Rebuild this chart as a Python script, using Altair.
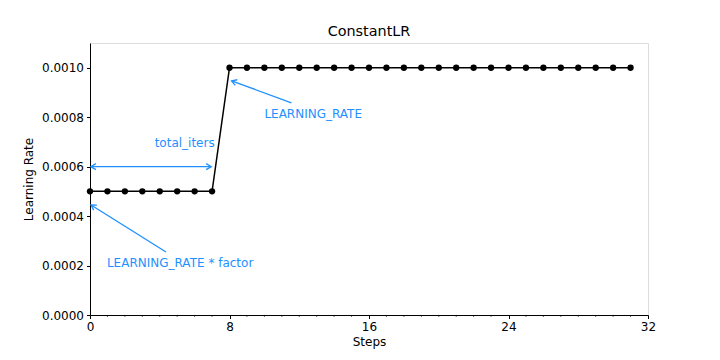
import math
import altair as alt
import pandas as pd

steps = list(range(32))
lrs = [0.0005] * 8 + [0.001] * 24
x_ticks = [0, 8, 16, 24, 32]
minor_ticks = [i for i in range(33) if i % 8 != 0]

BLUE = "#1E90FF"
W, H = 558, 272
XMAX, YMAX = 32, 0.0011
SX, SY = W / XMAX, H / YMAX
FONT = "DejaVu Sans"
FS = 12

# annotations: (x_tail, y_tail, x_head, y_head, both_heads)
arrows = [
    (11.55, 0.000858, 8.12, 0.000947, False),
    (0.05, 0.0006, 6.95, 0.0006, True),
    (4.36, 0.000255, 0.06, 0.000445, False),
]
labels = ["LEARNING_RATE", "total_iters", "LEARNING_RATE * factor"]
label_x = [10.0, 7.15, 0.97]
label_y = [0.000814, 0.000696, 0.00021]
label_align = ["left", "right", "left"]

df = pd.DataFrame({"step": steps, "lr": lrs})

xs = alt.Scale(domain=[0, XMAX], nice=False)
ys = alt.Scale(domain=[0, YMAX], nice=False)

common = dict(grid=False, tickSize=3.5, labelFontSize=FS, titleFontSize=FS, titleFontWeight="normal",
              domainColor="black", tickColor="black", labelColor="black", titleColor="black",
              labelFont=FONT, titleFont=FONT, labelFlush=False, labelOverlap=False)

base = alt.Chart(df)
line = base.mark_line(color="black", strokeWidth=1.5).encode(
    x=alt.X("step:Q", scale=xs, axis=alt.Axis(values=x_ticks, title="Steps", titlePadding=4, labelPadding=3, **common)),
    y=alt.Y("lr:Q", scale=ys, axis=alt.Axis(values=[0, 0.0002, 0.0004, 0.0006, 0.0008, 0.001], format=".4f",
                                             title="Learning Rate", titlePadding=6, labelPadding=3, **common)),
)
pts = base.mark_point(filled=True, color="black", size=40, opacity=1).encode(
    x=alt.X("step:Q", scale=xs), y=alt.Y("lr:Q", scale=ys)
)

minor_df = pd.DataFrame({"m": minor_ticks})
minor = alt.Chart(minor_df).mark_rule(color="black", strokeWidth=0.6).encode(
    x=alt.X("m:Q", scale=xs), y=alt.value(H), y2=alt.value(H + 2)
)

seg_rows = []
head_rows = []
for (x0, y0, x1, y1, both) in arrows:
    seg_rows.append({"x0": x0, "y0": y0, "x1": x1, "y1": y1})
    ang = math.degrees(math.atan2(-(y1 - y0) * SY, (x1 - x0) * SX)) % 360
    head_rows.append({"x": x1, "y": y1, "a": ang})
    if both:
        head_rows.append({"x": x0, "y": y0, "a": (ang + 180) % 360})
seg = alt.Chart(pd.DataFrame(seg_rows)).mark_rule(color=BLUE, strokeWidth=1.3).encode(
    x=alt.X("x0:Q", scale=xs), y=alt.Y("y0:Q", scale=ys), x2="x1:Q", y2="y1:Q"
)
heads = alt.Chart(pd.DataFrame(head_rows)).mark_point(
    shape="M -1 -0.6 L 0 0 L -1 0.6", filled=False, color=BLUE, strokeWidth=1.3, size=100, opacity=1
).encode(x=alt.X("x:Q", scale=xs), y=alt.Y("y:Q", scale=ys), angle=alt.Angle("a:Q", scale=None))

lab_df = pd.DataFrame({"t": labels, "x": label_x, "y": label_y, "al": label_align})
texts = []
for al in ["left", "right"]:
    texts.append(alt.Chart(lab_df[lab_df.al == al]).mark_text(
        color=BLUE, fontSize=FS, font=FONT, align=al, baseline="middle"
    ).encode(x=alt.X("x:Q", scale=xs), y=alt.Y("y:Q", scale=ys), text="t:N"))

chart = alt.layer(line, pts, minor, seg, heads, *texts).properties(
    width=W, height=H,
    title=alt.TitleParams("ConstantLR", fontSize=14.4, font=FONT, fontWeight="normal", anchor="middle",
                          offset=4, color="black"),
    autosize=alt.AutoSizeParams(type="none"),
    padding={"left": 82, "top": 35, "right": 64, "bottom": 37},
).configure_view(stroke=None).configure(background="white")

chart.save("out.html", embed_options={"renderer": "svg", "actions": False})
